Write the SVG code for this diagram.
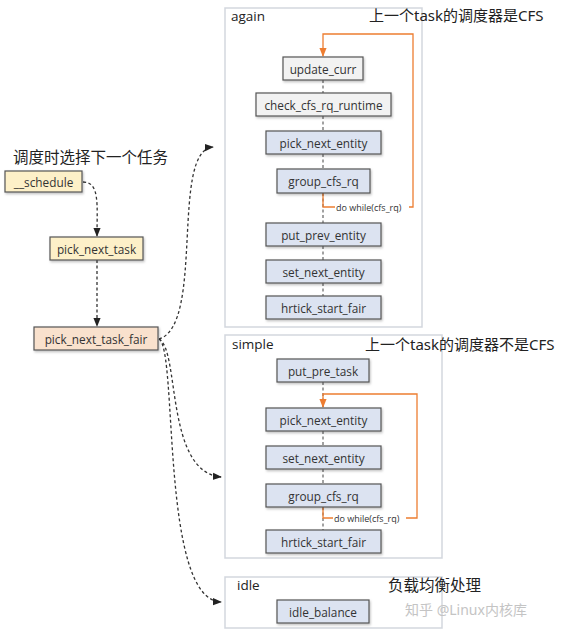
<svg xmlns="http://www.w3.org/2000/svg" width="565" height="633" viewBox="0 0 565 633">
<defs>
<marker id="ab" viewBox="0 0 10 10" refX="9" refY="5" markerWidth="7" markerHeight="7" orient="auto"><path d="M0,1 L10,5 L0,9 z" fill="#222"/></marker>
<marker id="ao" viewBox="0 0 10 10" refX="9" refY="5" markerWidth="7" markerHeight="7" orient="auto"><path d="M0,1 L10,5 L0,9 z" fill="#ed7d31"/></marker>
<filter id="sh" x="-10%" y="-10%" width="130%" height="140%"><feDropShadow dx="1" dy="1.5" stdDeviation="0.8" flood-color="#000" flood-opacity="0.25"/></filter>
</defs>
<style>
.ct{fill:#fff;stroke:#d3d7de;stroke-width:1.5}
.bx{stroke:#555;stroke-width:1.2;filter:url(#sh)}
.g{fill:#f2f2f2}
.b{fill:#dce3f1}
.y{fill:#fdf0c8}
.p{fill:#f9e1cd}
.t{font-family:"Open Sans","Noto Sans",sans-serif;font-size:11.8px;fill:#333;text-anchor:middle;dominant-baseline:central}
.cl{font-family:"Open Sans","Noto Sans",sans-serif;font-size:13.5px;fill:#222;dominant-baseline:central}
.cn{font-family:"Noto Sans","Noto Sans CJK SC",sans-serif;font-size:15px;fill:#222;dominant-baseline:central}
.dw{font-family:"Open Sans","Noto Sans",sans-serif;font-size:9px;fill:#333;dominant-baseline:central}
.dl{fill:none;stroke:#555;stroke-width:1.1;stroke-dasharray:3,2.5}
.cc{fill:none;stroke:#333;stroke-width:1.3;stroke-dasharray:3,2.5}
.or{fill:none;stroke:#ed7d31;stroke-width:1.3}
</style>
<rect width="565" height="633" fill="#fff"/>

<g id="containers">
<g id="again"><rect class="ct" x="225" y="8" width="197" height="319"/><text class="cl" x="231" y="16">again</text></g>
<g id="simple"><rect class="ct" x="225" y="335" width="217" height="223"/><text class="cl" x="232" y="344">simple</text></g>
<g id="idle"><rect class="ct" x="225" y="577" width="217" height="51"/><text class="cl" x="237" y="585">idle</text></g>
</g>

<g id="labels">
<text class="cn" x="13" y="157" style="font-size:15.5px">调度时选择下一个任务</text>
<text class="cn" x="369" y="15">上一个task的调度器是CFS</text>
<text class="cn" x="365" y="344">上一个task的调度器不是CFS</text>
<text class="cn" x="388" y="585" style="font-size:15.5px">负载均衡处理</text>
<text class="cn" x="405" y="609" style="font-size:14px;fill:#c4c4c4">知乎 @Linux内核库</text>
</g>

<g id="connectors">
<path class="dl" d="M323,80 V93 M323,116 V131 M323,154 V169 M323,193 V223 M323,246 V260 M323,283 V296"/>
<path class="dl" d="M323,382 V408 M323,431 V446 M323,469 V484 M323,507 V530"/>
<path class="or" d="M323,193 V207 H335 M409,207 H413 V34 H323 V56" marker-end="url(#ao)"/>
<path class="or" d="M323,507 V518 H333 M406,518 H417 V394 H323 V407" marker-end="url(#ao)"/>
<text class="dw" x="336" y="207">do while(cfs_rq)</text>
<text class="dw" x="334" y="518">do while(cfs_rq)</text>
<path class="cc" d="M83,182 C100,182 97,205 97,236" marker-end="url(#ab)"/>
<path class="cc" d="M97,260 V326" marker-end="url(#ab)"/>
<path class="cc" d="M159,339 C205,325 170,150 213,147" marker-end="url(#ab)"/>
<path class="cc" d="M159,339 C180,350 165,472 221,477" marker-end="url(#ab)"/>
<path class="cc" d="M159,339 C178,350 160,600 221,602" marker-end="url(#ab)"/>
</g>

<g id="n_schedule"><rect class="bx y" x="5" y="171" width="77" height="21"/><text class="t" x="43.5" y="181.5">__schedule</text></g>
<g id="n_pick_next_task"><rect class="bx y" x="50" y="237" width="93" height="23"/><text class="t" x="96.5" y="248.5">pick_next_task</text></g>
<g id="n_pick_next_task_fair"><rect class="bx p" x="34" y="327" width="124" height="23"/><text class="t" x="96" y="338.5">pick_next_task_fair</text></g>

<g id="a_update_curr"><rect class="bx g" x="283" y="57" width="80" height="23"/><text class="t" x="323" y="68.5">update_curr</text></g>
<g id="a_check"><rect class="bx g" x="256" y="93" width="135" height="23"/><text class="t" x="323.5" y="104.5">check_cfs_rq_runtime</text></g>
<g id="a_pick_next_entity"><rect class="bx b" x="266" y="131" width="115" height="23"/><text class="t" x="323.5" y="142.5">pick_next_entity</text></g>
<g id="a_group_cfs_rq"><rect class="bx b" x="277" y="169" width="93" height="24"/><text class="t" x="323.5" y="181">group_cfs_rq</text></g>
<g id="a_put_prev_entity"><rect class="bx b" x="266" y="223" width="115" height="23"/><text class="t" x="323.5" y="234.5">put_prev_entity</text></g>
<g id="a_set_next_entity"><rect class="bx b" x="266" y="260" width="115" height="23"/><text class="t" x="323.5" y="271.5">set_next_entity</text></g>
<g id="a_hrtick"><rect class="bx b" x="266" y="296" width="115" height="23"/><text class="t" x="323.5" y="307.5">hrtick_start_fair</text></g>

<g id="s_put_pre_task"><rect class="bx b" x="277" y="359" width="92" height="23"/><text class="t" x="323" y="370.5">put_pre_task</text></g>
<g id="s_pick_next_entity"><rect class="bx b" x="266" y="408" width="115" height="23"/><text class="t" x="323.5" y="419.5">pick_next_entity</text></g>
<g id="s_set_next_entity"><rect class="bx b" x="266" y="446" width="115" height="23"/><text class="t" x="323.5" y="457.5">set_next_entity</text></g>
<g id="s_group_cfs_rq"><rect class="bx b" x="266" y="484" width="115" height="23"/><text class="t" x="323.5" y="495.5">group_cfs_rq</text></g>
<g id="s_hrtick"><rect class="bx b" x="266" y="530" width="115" height="23"/><text class="t" x="323.5" y="541.5">hrtick_start_fair</text></g>

<g id="i_idle_balance"><rect class="bx b" x="277" y="600" width="92" height="23"/><text class="t" x="323" y="611.5">idle_balance</text></g>
</svg>
